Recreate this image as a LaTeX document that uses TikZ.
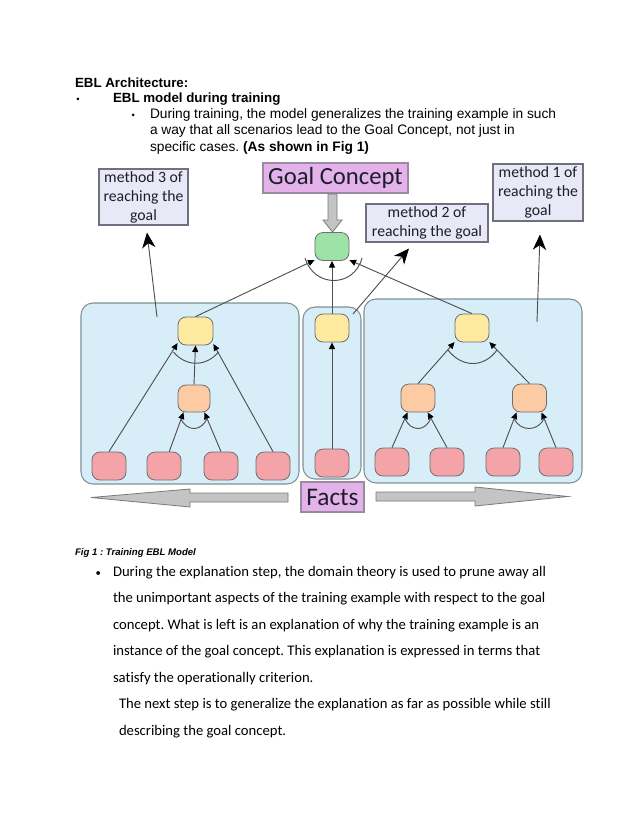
\documentclass[tikz,border=0pt]{standalone}
\usepackage{fontspec}
\setmainfont{Liberation Sans}
\newfontfamily\calfont[Ligatures=NoCommon]{Carlito}
\usetikzlibrary{arrows.meta,calc}
\definecolor{bigfill}{HTML}{D7EEF9}
\definecolor{bigdraw}{HTML}{7F9196}
\definecolor{yelfill}{HTML}{FDE9A0}
\definecolor{orafill}{HTML}{FCCBA4}
\definecolor{pnkfill}{HTML}{F4A3A9}
\definecolor{grnfill}{HTML}{9DE3A8}
\definecolor{nodedraw}{HTML}{6E6E6E}
\definecolor{goalfill}{HTML}{E3B2EA}
\definecolor{goaldraw}{HTML}{9A8A9E}
\definecolor{methfill}{HTML}{E8E8F7}
\definecolor{methdraw}{HTML}{6F7080}
\definecolor{arrfill}{HTML}{C4C4C4}
\definecolor{arrdraw}{HTML}{7A7A7A}
\definecolor{linecol}{HTML}{505050}
\definecolor{labcol}{HTML}{1E1E28}
\frenchspacing
\begin{document}
\begin{tikzpicture}[x=0.75pt,y=-0.75pt,
  txt/.style={anchor=base west,inner sep=0pt,outer sep=0pt},
  bigbox/.style={draw=bigdraw,fill=bigfill,rounded corners=9pt,line width=0.8pt,inner sep=0pt},
  smallnode/.style={draw=nodedraw,line width=0.6pt,rounded corners=6pt,minimum width=25.5pt,minimum height=21pt,inner sep=0pt},
  ynode/.style={smallnode,fill=yelfill},
  onode/.style={smallnode,fill=orafill},
  pnode/.style={smallnode,fill=pnkfill},
  gnode/.style={smallnode,fill=grnfill},
  methbox/.style={draw=methdraw,fill=methfill,line width=0.8pt,inner sep=0pt,align=center,font=\calfont\fontsize{11.8}{14.25}\selectfont,text=labcol},
  edge/.style={draw=linecol,line width=0.7pt,-{Triangle[length=5pt,width=4.5pt,color=black]}},
  plain/.style={draw=linecol,line width=0.7pt},
  methedge/.style={draw=linecol,line width=0.7pt,-{Stealth[length=11.5pt,width=10pt,inset=3.5pt,color=black]}},
  graybig/.style={fill=arrfill,draw=arrdraw,line width=0.6pt,line join=miter}
]
\fill[white] (0,0) rectangle (638,826);
\useasboundingbox (0,0) rectangle (638,826);

% ---- header text ----
\node[txt] (h1) at (75,87) {\fontsize{10}{12}\selectfont\bfseries EBL Architecture:};
\node[txt] (b1) at (76.5,102) {\fontsize{7}{10}\selectfont\textbullet};
\node[txt] (h2) at (113,102) {\fontsize{10}{12}\selectfont\bfseries EBL model during training};
\node[txt] (b2) at (131.5,118) {\fontsize{7}{10}\selectfont\textbullet};
\node[txt] (h3) at (150,118) {\fontsize{10.3}{12}\selectfont During training, the model generalizes the training example in such};
\node[txt] (h4) at (150,134.8) {\fontsize{10.3}{12}\selectfont a way that all scenarios lead to the Goal Concept, not just in};
\node[txt] (h5) at (150,151.5) {\fontsize{10.3}{12}\selectfont specific cases. \textbf{(As shown in Fig 1)}};

% ---- big boxes ----
\node[bigbox,minimum width=163.5pt,minimum height=135.75pt] (boxL) at (190,393.5) {};
\node[bigbox,minimum width=43.5pt,minimum height=129pt] (boxM) at (332,393) {};
\node[bigbox,minimum width=163.5pt,minimum height=138pt] (boxR) at (473,391) {};

% ---- top boxes ----
\node[draw=goaldraw,fill=goalfill,line width=0.8pt,minimum width=108.75pt,minimum height=22.5pt,inner sep=0pt,font=\calfont\fontsize{18.5}{20}\selectfont,text=labcol] (goal) at (335.5,178) {Goal Concept};
\node[methbox,minimum width=66.75pt,minimum height=42pt] (m3) at (143.5,197) {method 3 of\\reaching the\\goal};
\node[methbox,minimum width=91.5pt,minimum height=28.5pt] (m2) at (427,223) {method 2 of\\reaching the goal};
\node[methbox,minimum width=67.5pt,minimum height=42.75pt] (m1) at (538,192.5) {method 1 of\\reaching the\\goal};

% ---- green node ----
\node[gnode] (g) at (332,246.5) {};

% ---- left box nodes ----
\node[ynode,minimum width=26.25pt] (yL) at (195.5,331) {};
\node[onode,minimum width=24pt,minimum height=20.25pt] (oL) at (194,398.5) {};
\node[pnode] (pL1) at (109,466) {};
\node[pnode] (pL2) at (164,466) {};
\node[pnode] (pL3) at (221,466) {};
\node[pnode] (pL4) at (273,466) {};

% ---- middle box nodes ----
\node[ynode] (yM) at (332,328) {};
\node[pnode] (pM) at (332,463) {};

% ---- right box nodes ----
\node[ynode] (yR) at (472,328) {};
\node[onode] (oR1) at (418,398) {};
\node[onode] (oR2) at (529.5,398) {};
\node[pnode] (pR1) at (392,462) {};
\node[pnode] (pR2) at (447,462) {};
\node[pnode] (pR3) at (503,462) {};
\node[pnode] (pR4) at (556,462) {};

% ---- facts ----
\node[draw=goaldraw,fill=goalfill,line width=0.8pt,minimum width=47.25pt,minimum height=22.5pt,inner sep=0pt,font=\calfont\fontsize{19}{20}\selectfont,text=labcol] (facts) at (332.5,497) {Facts};

% ---- left box edges ----
\draw[edge] (pL1.north) -- (yL.214);
\draw[edge] (pL4.north) -- (yL.324);
\draw[edge] (oL.north) -- (yL.south);
\draw[edge] (pL2.70) -- (oL.233);
\draw[edge] (pL3.north) -- (oL.307);
\draw[plain] (173.5,352) .. controls (186,367) and (206,367) .. (218.5,352);
\draw[plain] (180.6,418) .. controls (186,432) and (202,432) .. (207,418);

% ---- middle edges ----
\draw[edge] (pM.north) -- (yM.south);
\draw[edge] (yM.north) -- (g.south);

% ---- right box edges ----
\draw[edge] (oR1.north) -- (yR.219);
\draw[edge] (oR2.north) -- (yR.321);
\draw[edge] (pR1.north) -- (oR1.234);
\draw[edge] (pR2.north) -- (oR1.304);
\draw[edge] (pR3.north) -- (oR2.228);
\draw[edge] (pR4.north) -- (oR2.310);
\draw[plain] (448,350) .. controls (462,368) and (484,368) .. (497,350);
\draw[plain] (404.9,418) .. controls (410,432) and (426,432) .. (430.7,418);
\draw[plain] (514.1,418) .. controls (519,432) and (539,432) .. (544,418);

% ---- edges to green ----
\draw[edge] (yL.north) -- (g.218);
\draw[edge] (yR.north) -- (g.322);
\draw[plain] (305,258) .. controls (314,288) and (354,288) .. (362,258);

% ---- method arrows ----
\coordinate (s3) at (157,317);
\coordinate (s2) at (353,314);
\coordinate (s1) at (537,322);
\draw[methedge] (s3) -- ($(m3.south)+(3.5,7)$);
\draw[methedge] (s2) -- ($(m2.south)+(-18,6)$);
\draw[methedge] (s1) -- ($(m1.south)+(2,13)$);

% ---- gray block arrows ----
\draw[graybig] (328,194) -- (328,220) -- (323,220) -- (332.5,232) -- (342,220) -- (337,220) -- (337,194) -- cycle;
\draw[graybig] (288,493) -- (190,493) -- (190,489) -- (91,497.5) -- (190,507) -- (190,502) -- (288,502) -- cycle;
\draw[graybig] (376,492) -- (475,492) -- (475,487) -- (568,496.5) -- (475,506) -- (475,501) -- (376,501) -- cycle;

% ---- caption ----
\node[txt] (cap) at (75,555) {\fontsize{7.2}{9}\selectfont\bfseries\itshape Fig 1 : Training EBL Model};

% ---- body text ----
\begin{scope}[every node/.append style={txt,font=\calfont\fontsize{11}{14}\selectfont}]
\node (bb) at (95.5,576) {\fontsize{8}{10}\selectfont\textbullet};
\node (l1) at (113,576) {During the explanation step, the domain theory is used to prune away all};
\node (l2) at (113,602.5) {the unimportant aspects of the training example with respect to the goal};
\node (l3) at (113,629) {concept. What is left is an explanation of why the training example is an};
\node (l4) at (113,655.5) {instance of the goal concept. This explanation is expressed in terms that};
\node (l5) at (113,682) {satisfy the operationally criterion.};
\node (l6) at (119,708.5) {The next step is to generalize the explanation as far as possible while still};
\node (l7) at (119,735) {describing the goal concept.};
\end{scope}
\end{tikzpicture}
\end{document}
